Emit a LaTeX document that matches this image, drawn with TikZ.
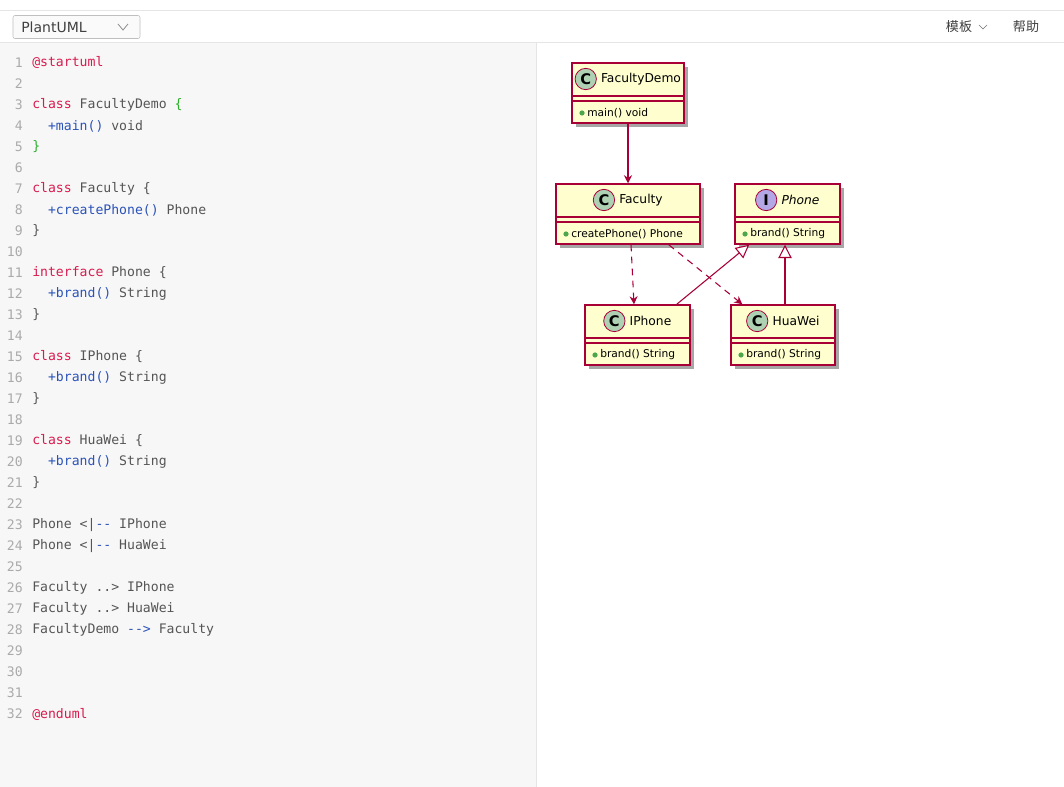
\documentclass[tikz,border=0pt]{standalone}
\usepackage{fontspec}
\setmainfont{DejaVu Sans}
\newfontfamily\cjk{Noto Sans CJK SC}
\newfontfamily\codefont{DejaVu Sans Mono}
\newfontfamily\umlfont{DejaVu Sans}
\usetikzlibrary{arrows.meta,calc}
\definecolor{kw}{HTML}{D81B4F}
\definecolor{gr}{HTML}{2BB02B}
\definecolor{bl}{HTML}{2A52B8}
\definecolor{tx}{HTML}{555555}
\definecolor{ln}{HTML}{AAAAAA}
\definecolor{bd}{HTML}{A80036}
\definecolor{bx}{HTML}{FEFECE}
\definecolor{cc}{HTML}{ADD1B2}
\definecolor{ic}{HTML}{B4A7E5}
\tikzset{
 code/.style={anchor=west,inner sep=0,font=\codefont\fontsize{9.85pt}{10pt}\selectfont,text=tx},
 lnum/.style={anchor=east,inner sep=0,font=\codefont\fontsize{9.85pt}{10pt}\selectfont,text=ln},
 box/.style={draw=bd,line width=1.1pt,fill=bx,inner sep=0},
 dep/.style={bd,line width=0.8pt,-{Stealth[length=6pt,width=6pt,inset=2pt]}},
 gen/.style={bd,line width=0.8pt,-{Triangle[open,length=10pt,width=10pt,fill=white]}},
}
% name, left, top, width, letter, circle colour, title, method
\newcommand\umlbox[8]{%
 \fill[black!35] (#2+4,#3+4) rectangle ++(#4,60);
 \node[box,minimum width=#4*0.75pt,minimum height=45pt] (#1) at (#2+#4/2,#3+30) {};
 \draw[bd,line width=1.1pt] (#2,#3+33) -- ++(#4,0) (#2,#3+38) -- ++(#4,0);
 \node[inner sep=0,font=\umlfont\fontsize{9.2pt}{10pt}\selectfont,
   label={[circle,draw=bd,line width=0.6pt,fill=#6,minimum size=16pt,inner sep=0,
     font=\umlfont\bfseries\fontsize{11pt}{11pt}\selectfont,label distance=3pt]left:#5}]
   (#1t) at (#2+#4/2+13,#3+16) {#7};
 \fill[green!50!black!70] (#2+10,#3+50) circle (2.6);
 \node[anchor=west,inner sep=0,font=\umlfont\fontsize{8pt}{9pt}\selectfont] (#1m) at (#2+15,#3+50) {#8};
}
\begin{document}
\begin{tikzpicture}[x=0.75pt,y=-0.75pt]
\useasboundingbox (0,0) rectangle (1064,787);
\fill[white] (0,0) rectangle (1064,787);
\fill[black!3] (0,43) rectangle (536,787);
\draw[black!10] (0,10.5) -- (1064,10.5) (0,42.5) -- (1064,42.5) (536.5,43) -- (536.5,787);
% toolbar
\node[draw=black!25,fill=black!2,rounded corners=1.5pt,minimum width=95.25pt,minimum height=17.25pt,inner sep=0] (sel) at (76.5,27) {};
\node[anchor=west,inner sep=0,font=\fontsize{10.5pt}{11pt}\selectfont,text=black!75] (selt) at (21,27) {PlantUML};
\draw[black!45,line width=0.6pt] (118,24) -- (123,30) -- (128,24);
\node[inner sep=0,font=\cjk\fontsize{9.8pt}{10pt}\selectfont,text=black!75] (tpl) at (959,27) {模板};
\draw[black!55,line width=0.5pt] (979,25) -- (983,29) -- (987,25);
\node[inner sep=0,font=\cjk\fontsize{9.8pt}{10pt}\selectfont,text=black!75] (help) at (1026,27) {帮助};
% line numbers
\foreach \n in {1,...,32} \node[lnum] (n\n) at (23,{63+(\n-1)*21}) {\n};
\begin{scope}[yshift=-0.75pt]
\node[code] (c1) at (32,62) {\textcolor{kw}{@startuml}};
\node[code] (c3) at (32,104) {\textcolor{kw}{class} FacultyDemo \textcolor{gr}{\{}};
\node[code] (c4) at (32,125) {\ \ \textcolor{bl}{+main()} void};
\node[code] (c5) at (32,146) {\textcolor{gr}{\}}};
\node[code] (c7) at (32,188) {\textcolor{kw}{class} Faculty \{};
\node[code] (c8) at (32,209) {\ \ \textcolor{bl}{+createPhone()} Phone};
\node[code] (c9) at (32,230) {\}};
\node[code] (c11) at (32,272) {\textcolor{kw}{interface} Phone \{};
\node[code] (c12) at (32,293) {\ \ \textcolor{bl}{+brand()} String};
\node[code] (c13) at (32,314) {\}};
\node[code] (c15) at (32,356) {\textcolor{kw}{class} IPhone \{};
\node[code] (c16) at (32,377) {\ \ \textcolor{bl}{+brand()} String};
\node[code] (c17) at (32,398) {\}};
\node[code] (c19) at (32,440) {\textcolor{kw}{class} HuaWei \{};
\node[code] (c20) at (32,461) {\ \ \textcolor{bl}{+brand()} String};
\node[code] (c21) at (32,482) {\}};
\node[code] (c23) at (32,524) {Phone <|\textcolor{bl}{--} IPhone};
\node[code] (c24) at (32,545) {Phone <|\textcolor{bl}{--} HuaWei};
\node[code] (c26) at (32,587) {Faculty ..> IPhone};
\node[code] (c27) at (32,608) {Faculty ..> HuaWei};
\node[code] (c28) at (32,629) {FacultyDemo \textcolor{bl}{-->} Faculty};
\node[code] (c32) at (32,713) {\textcolor{kw}{@enduml}};
\end{scope}
% UML
\umlbox{fd}{572}{63}{112}{C}{cc}{FacultyDemo}{main() void}
\umlbox{fa}{556}{184}{144}{C}{cc}{Faculty}{createPhone() Phone}
\umlbox{ph}{735}{184}{105}{I}{ic}{\itshape Phone}{brand() String}
\umlbox{ip}{585}{305}{105}{C}{cc}{IPhone}{brand() String}
\umlbox{hw}{731}{305}{104}{C}{cc}{HuaWei}{brand() String}
\draw[dep] (fd.south) -- (fa.north);
\draw[dep,dash pattern=on 5pt off 4pt] ([xshift=2.25pt]fa.south) -- ([xshift=-2.625pt]ip.north);
\draw[dep,dash pattern=on 5pt off 4pt] ([xshift=-24pt]fa.south east) -- ([xshift=9pt]hw.north west);
\draw[gen] ([xshift=-10.5pt]ip.north east) -- ([xshift=11.25pt]ph.south west);
\draw[gen] ([xshift=1.5pt]hw.north) -- ([xshift=-1.875pt]ph.south);
\end{tikzpicture}
\end{document}
